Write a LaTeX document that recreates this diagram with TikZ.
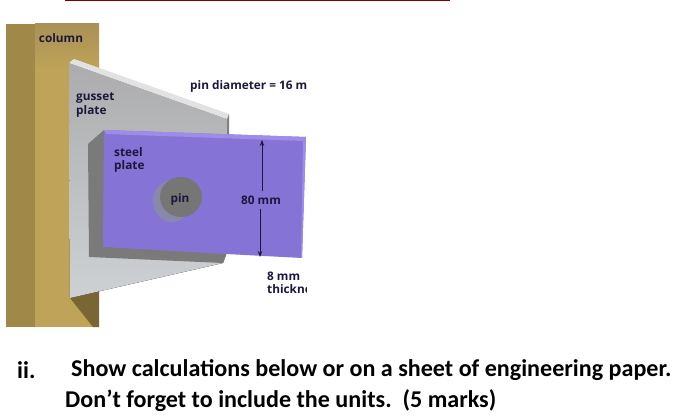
\documentclass[tikz,border=0pt]{standalone}
\usepackage{fontspec}
\setmainfont{Carlito}
\newfontfamily\labelfont{Open Sans}
\usetikzlibrary{arrows.meta}
\definecolor{columnlight}{RGB}{190,163,88}
\definecolor{columndark}{RGB}{160,137,72}
\definecolor{columnshade}{RGB}{122,102,50}
\definecolor{columntop}{RGB}{170,145,85}
\definecolor{gussetface}{RGB}{172,172,174}
\definecolor{gussetlow}{RGB}{206,209,212}
\definecolor{gussetedge}{RGB}{226,226,226}
\definecolor{plateshadow}{RGB}{122,122,122}
\definecolor{platepurple}{RGB}{134,115,214}
\definecolor{plateedge}{RGB}{158,140,232}
\definecolor{pinface}{RGB}{118,118,116}
\definecolor{pinback}{RGB}{136,136,170}
\definecolor{inkdark}{RGB}{28,24,60}
\tikzset{
  partlabel/.style={font=\labelfont\bfseries\fontsize{11.8}{13.2}\selectfont,text=inkdark,align=left,inner sep=0pt},
  tasktext/.style={font=\bfseries\fontsize{24.1}{28}\selectfont,anchor=west,inner sep=0pt},
  dimarrow/.style={-{Stealth[length=6pt,width=4.5pt]},draw=inkdark,line width=0.8pt}
}
\begin{document}
\begin{tikzpicture}[x=1pt,y=-1pt]
   \useasboundingbox (0,0) rectangle (674,419);
   \fill[white] (0,0) rectangle (674,419);

   % cut off rule on top
   \draw[draw=red!50!black,line width=1pt] (65,0.7) -- (450,0.7);

   % column
   \fill[columnlight] (6,24) rectangle (99,327);
   \fill[columndark] (6,24) rectangle (35,327);
   \fill[top color=columntop,bottom color=columnlight] (35,24) rectangle (99,70);
   \fill[columnshade] (70,298) -- (99,291) -- (99,327) -- (93,327) -- cycle;

   % gusset plate
   \fill[top color=gussetface,bottom color=gussetlow] (69,63) -- (227,119) -- (229,135) -- (226,255) -- (223,263) -- (70,298) -- cycle;
   \fill[gussetedge] (69,63) -- (74,59) -- (229,114) -- (227,119) -- cycle;
   \fill[gray] (227,119) -- (229,114) -- (229,135) -- (227,135) -- cycle;

   % steel plate with its shadow
   \fill[plateshadow] (88,144) -- (104,130) -- (226,150) -- (226,255) -- (223,263) -- (89,257) -- cycle;
   \fill[platepurple] (104,130) -- (306,137) -- (302,258) -- (226,254) -- (103,247) -- cycle;
   \fill[plateedge] (104,130) -- (306,137) -- (303,141) -- (106,134) -- cycle;
   \fill[plateedge] (306,137) -- (302,258) -- (301,258) -- (303,141) -- cycle;

   % pin
   \fill[pinback] (172,201) circle (19 and 21);
   \fill[pinface] (181,197) circle (21 and 20);

   % labels
   \node[partlabel] (columnlabel) at (61,38) {column};
   \node[partlabel,anchor=west] (gussetlabel) at (76,105) {gusset\\plate};
   \node[partlabel,anchor=west] (steellabel) at (114,160) {steel\\plate};
   \node[partlabel] (pinlabel) at (180,199) {pin};
   \node[partlabel] (dimlabel) at (261,200) {80 mm};
   \begin{scope}
     \clip (0,0) rectangle (306,419);
     \node[partlabel,anchor=west] (diamlabel) at (190,86) {pin diameter = 16 mm};
     \node[partlabel,anchor=west] (thicklabel) at (267,282.5) {8 mm\\thickness};
   \end{scope}

   % dimension arrows
   \coordinate (dimtop) at (262,140);
   \coordinate (dimbottom) at (260,257);
   \draw[dimarrow] (dimlabel.north) ++(1,-4) -- (dimtop);
   \draw[dimarrow] (dimlabel.south) ++(-1,4) -- (dimbottom);

   % task text
   \node[tasktext] (tasknum) at (17,370) {ii.};
   \node[tasktext] (taskone) at (71,370) {Show calculations below or on a sheet of engineering paper.};
   \node[tasktext] (tasktwo) at (65,401) {Don’t forget to include the units.\ \ (5 marks)};
\end{tikzpicture}
\end{document}
